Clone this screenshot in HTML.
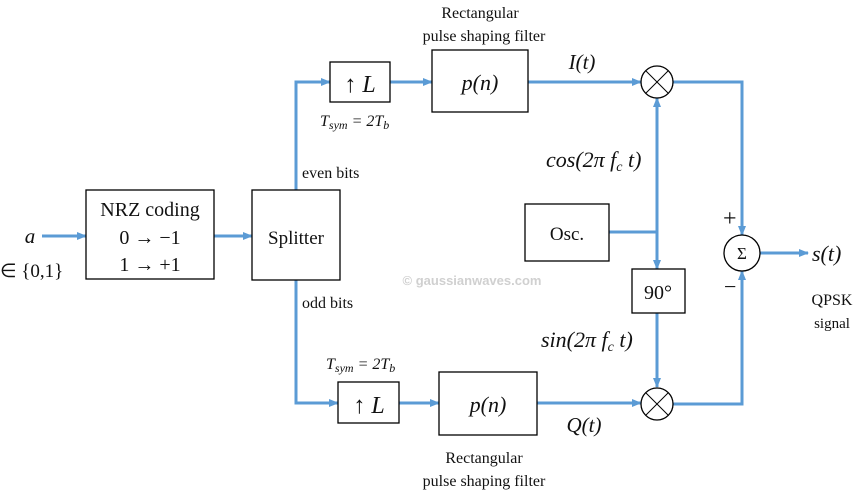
<!DOCTYPE html>
<html><head><style>body{margin:0;background:#fff}svg{display:block}text{font-family:"Liberation Serif",serif;fill:#111}</style></head><body>
<svg width="860" height="494" viewBox="0 0 860 494" xmlns="http://www.w3.org/2000/svg">
<defs><marker id="a" markerWidth="10" markerHeight="8" refX="9" refY="4" orient="auto" markerUnits="userSpaceOnUse"><path d="M0,0 L10,4 L0,8 z" fill="#5b9bd5"/></marker></defs>
<g stroke="#5b9bd5" stroke-width="3" fill="none">
<line x1="42" y1="236" x2="86" y2="236" marker-end="url(#a)"/>
<line x1="214" y1="236" x2="252" y2="236" marker-end="url(#a)"/>
<polyline points="296,190 296,82 330,82" marker-end="url(#a)"/>
<polyline points="296,280 296,403 338,403" marker-end="url(#a)"/>
<line x1="390" y1="82" x2="432" y2="82" marker-end="url(#a)"/>
<line x1="399" y1="403" x2="439" y2="403" marker-end="url(#a)"/>
<line x1="528" y1="82" x2="641" y2="82" marker-end="url(#a)"/>
<line x1="537" y1="403" x2="641" y2="403" marker-end="url(#a)"/>
<line x1="609" y1="232" x2="657" y2="232"/>
<line x1="657" y1="232" x2="657" y2="98" marker-end="url(#a)"/>
<line x1="657" y1="232" x2="657" y2="269" marker-end="url(#a)"/>
<line x1="657" y1="313" x2="657" y2="387" marker-end="url(#a)"/>
<polyline points="673,82 742,82 742,235" marker-end="url(#a)"/>
<polyline points="673,404 742,404 742,271" marker-end="url(#a)"/>
<line x1="760" y1="253" x2="808" y2="253" marker-end="url(#a)"/>
</g>
<g stroke="#000" stroke-width="1.3" fill="#fff">
<rect x="86" y="190" width="128" height="89"/>
<rect x="252" y="190" width="88" height="90"/>
<rect x="330" y="62" width="60" height="40"/>
<rect x="432" y="50" width="96" height="62"/>
<rect x="338" y="382" width="61" height="41"/>
<rect x="439" y="372" width="98" height="63"/>
<rect x="525" y="204" width="84" height="57"/>
<rect x="632" y="269" width="53" height="44"/>
<circle cx="657" cy="82" r="16"/>
<circle cx="657" cy="404" r="16"/>
<circle cx="742" cy="253" r="18"/>
</g>
<g stroke="#000" stroke-width="1">
<line x1="646" y1="71" x2="668" y2="93"/><line x1="668" y1="71" x2="646" y2="93"/>
<line x1="646" y1="393" x2="668" y2="415"/><line x1="668" y1="393" x2="646" y2="415"/>
</g>
<text x="30" y="243" font-size="21" font-style="italic" text-anchor="middle">a</text>
<text x="0" y="277" font-size="19">∈ {0,1}</text>
<text x="150" y="216" font-size="20" text-anchor="middle">NRZ coding</text>
<text x="150" y="244" font-size="20" text-anchor="middle">0 → −1</text>
<text x="150" y="271" font-size="20" text-anchor="middle">1 → +1</text>
<text x="296" y="244" font-size="19" text-anchor="middle">Splitter</text>
<text x="302" y="178" font-size="16">even bits</text>
<text x="302" y="308" font-size="16">odd bits</text>
<text x="360" y="92" font-size="24" text-anchor="middle">↑ <tspan font-style="italic">L</tspan></text>
<text x="369" y="413" font-size="24" text-anchor="middle">↑ <tspan font-style="italic">L</tspan></text>
<text x="320" y="126" font-size="16" font-style="italic">T<tspan font-size="12" dy="3">sym</tspan><tspan dy="-3"> = 2T</tspan><tspan font-size="12" dy="3">b</tspan></text>
<text x="326" y="369" font-size="16" font-style="italic">T<tspan font-size="12" dy="3">sym</tspan><tspan dy="-3"> = 2T</tspan><tspan font-size="12" dy="3">b</tspan></text>
<text x="480" y="18" font-size="16" text-anchor="middle">Rectangular</text>
<text x="484" y="41" font-size="16" text-anchor="middle">pulse shaping filter</text>
<text x="484" y="463" font-size="16" text-anchor="middle">Rectangular</text>
<text x="484" y="486" font-size="16" text-anchor="middle">pulse shaping filter</text>
<text x="480" y="90" font-size="22" font-style="italic" text-anchor="middle">p(n)</text>
<text x="488" y="412" font-size="22" font-style="italic" text-anchor="middle">p(n)</text>
<text x="582" y="69" font-size="21" font-style="italic" text-anchor="middle">I(t)</text>
<text x="584" y="432" font-size="21" font-style="italic" text-anchor="middle">Q(t)</text>
<text x="546" y="167" font-size="22" font-style="italic">cos(2π f<tspan font-size="14" dy="4">c</tspan><tspan dy="-4"> t)</tspan></text>
<text x="541" y="347" font-size="22" font-style="italic">sin(2π f<tspan font-size="14" dy="4">c</tspan><tspan dy="-4"> t)</tspan></text>
<text x="567" y="240" font-size="19" text-anchor="middle">Osc.</text>
<text x="658" y="299" font-size="20" text-anchor="middle">90°</text>
<text x="742" y="259" font-size="17" text-anchor="middle">Σ</text>
<text x="723" y="226" font-size="24">+</text>
<text x="724" y="294" font-size="22">−</text>
<text x="812" y="261" font-size="22" font-style="italic">s(t)</text>
<text x="832" y="305" font-size="16" text-anchor="middle">QPSK</text>
<text x="832" y="328" font-size="15" text-anchor="middle">signal</text>
<text x="472" y="285" font-size="13" text-anchor="middle" style="font-family:'Liberation Sans',sans-serif;fill:#d0d0d0;font-weight:bold">© gaussianwaves.com</text>
</svg>
</body></html>
